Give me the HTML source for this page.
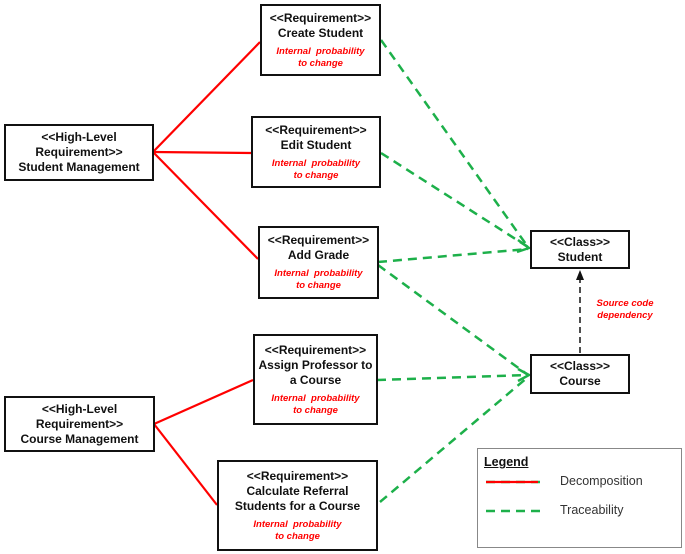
<!DOCTYPE html>
<html><head><meta charset="utf-8"><style>
body{margin:0;width:685px;height:554px;background:#fff;position:relative;overflow:hidden;font-family:"Liberation Sans",sans-serif}
.b{position:absolute;border:2px solid #111;box-sizing:border-box;background:#fff;text-align:center;font-weight:bold;font-size:12px;line-height:15px;color:#111;display:flex;flex-direction:column;justify-content:center}
.r{color:#f00;font-style:italic;font-size:9.5px;line-height:12px;margin-top:5px}
svg{position:absolute;left:0;top:0}
</style></head><body>
<svg width="685" height="554">
<g stroke="#f00" stroke-width="2.2" fill="none">
<line x1="153" y1="152" x2="260" y2="42"/><line x1="153" y1="152" x2="251" y2="153"/><line x1="153" y1="152" x2="258" y2="259"/>
<line x1="154" y1="424" x2="253" y2="380"/><line x1="154" y1="424" x2="217" y2="505"/>
</g>
<g stroke="#1db04a" stroke-width="2.5" fill="none" stroke-dasharray="9,6">
<line x1="381" y1="40" x2="528" y2="247"/><line x1="381" y1="153" x2="528" y2="247"/><line x1="378" y1="262" x2="528" y2="249"/>
<line x1="378" y1="265" x2="528" y2="375"/><line x1="377" y1="380" x2="528" y2="375"/><line x1="380" y1="502" x2="528" y2="377"/>
<line x1="486" y1="482" x2="540" y2="482" stroke-dasharray="9,6"/>
</g>
<g stroke="#1db04a" stroke-width="2.5" fill="none">
<polyline points="518,240 529,248 517,252"/><polyline points="518,369 529,375 518,381"/>
</g>
<line x1="486" y1="482" x2="538" y2="482" stroke="#f00" stroke-width="2.2"/>
<line x1="486" y1="511" x2="540" y2="511" stroke="#1db04a" stroke-width="2.5" stroke-dasharray="9,6"/>
<line x1="580" y1="353" x2="580" y2="278" stroke="#222" stroke-width="1.6" stroke-dasharray="6,4"/>
<polygon points="580,270 576,280 584,280" fill="#111"/>
<rect x="477.5" y="448.5" width="204" height="99" fill="none" stroke="#888" stroke-width="1"/>
</svg>
<div class="b" style="left:260px;top:4px;width:121px;height:72px">&lt;&lt;Requirement&gt;&gt;<br>Create Student<div class="r">Internal &nbsp;probability<br>to change</div></div>
<div class="b" style="left:251px;top:116px;width:130px;height:72px">&lt;&lt;Requirement&gt;&gt;<br>Edit Student<div class="r">Internal &nbsp;probability<br>to change</div></div>
<div class="b" style="left:258px;top:226px;width:121px;height:73px">&lt;&lt;Requirement&gt;&gt;<br>Add Grade<div class="r">Internal &nbsp;probability<br>to change</div></div>
<div class="b" style="left:4px;top:124px;width:150px;height:57px">&lt;&lt;High-Level<br>Requirement&gt;&gt;<br>Student Management</div>
<div class="b" style="left:253px;top:334px;width:125px;height:91px">&lt;&lt;Requirement&gt;&gt;<br>Assign Professor to<br>a Course<div class="r">Internal &nbsp;probability<br>to change</div></div>
<div class="b" style="left:4px;top:396px;width:151px;height:56px">&lt;&lt;High-Level<br>Requirement&gt;&gt;<br>Course Management</div>
<div class="b" style="left:217px;top:460px;width:161px;height:91px">&lt;&lt;Requirement&gt;&gt;<br>Calculate Referral<br>Students for a Course<div class="r">Internal &nbsp;probability<br>to change</div></div>
<div class="b" style="left:530px;top:230px;width:100px;height:39px">&lt;&lt;Class&gt;&gt;<br>Student</div>
<div class="b" style="left:530px;top:354px;width:100px;height:40px">&lt;&lt;Class&gt;&gt;<br>Course</div>
<div style="position:absolute;left:590px;top:298px;width:70px;text-align:center;color:#f00;font-style:italic;font-weight:bold;font-size:9.5px;line-height:12px">Source code<br>dependency</div>
<div style="position:absolute;left:484px;top:455px;font-weight:bold;font-size:12.5px;text-decoration:underline;color:#111">Legend</div>
<div style="position:absolute;left:560px;top:474px;font-size:12.5px;color:#333">Decomposition</div>
<div style="position:absolute;left:560px;top:503px;font-size:12.5px;color:#333">Traceability</div>
</body></html>
